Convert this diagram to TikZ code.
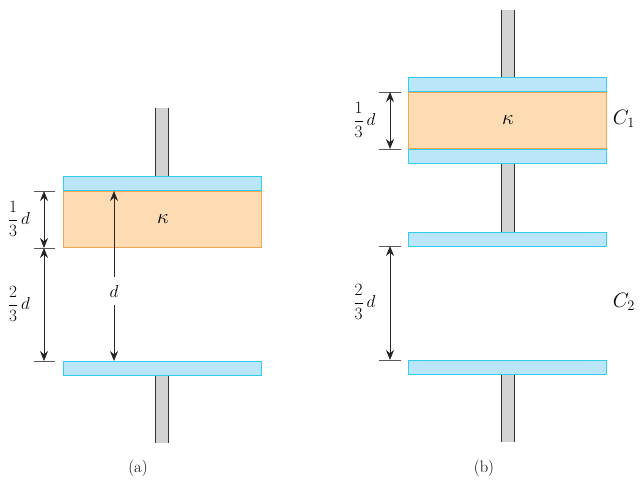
\documentclass[tikz,border=0pt]{standalone}
\usetikzlibrary{arrows.meta}
\definecolor{platefill}{RGB}{187,229,248}
\definecolor{plateline}{RGB}{50,205,245}
\definecolor{slabfill}{RGB}{253,219,179}
\definecolor{slabline}{RGB}{240,165,80}
\definecolor{wirefill}{RGB}{210,210,210}
\tikzset{plate/.style = {rectangle, draw = plateline, fill = platefill, line width = 1.5pt, minimum width = 198pt, minimum height = 14pt, inner sep = 0pt, outer sep = 0pt},
	slab/.style = {rectangle, draw = slabline, fill = slabfill, line width = 1.5pt, minimum width = 198pt, minimum height = 56pt, inner sep = 0pt, outer sep = 0pt},
	wire/.style = {rectangle, fill = wirefill, minimum width = 13pt, inner sep = 0pt, outer sep = 0pt, append after command = {
		(\tikzlastnode.north west) edge [wireside] (\tikzlastnode.south west)
		(\tikzlastnode.north east) edge [wireside] (\tikzlastnode.south east)}},
	wireside/.style = {draw = black!80, line width = 1pt},
	tick/.style = {draw = black!65, line width = 0.9pt},
	dim/.style = {{Stealth[length = 10pt, width = 8pt]}-{Stealth[length = 10pt, width = 8pt]}, line width = 0.9pt, draw = black!85},
	single/.style = {-{Stealth[length = 10pt, width = 8pt]}, line width = 0.9pt, draw = black!85},
	lab/.style = {font = \LARGE, inner sep = 0pt},
	biglab/.style = {font = \huge, inner sep = 0pt},
	caption/.style = {font = \fontsize{16.5}{19}\selectfont, inner sep = 0pt}}

\begin{document}
\begin{tikzpicture}[x = 1pt, y = -1pt]
 \useasboundingbox (0,0) rectangle (642,481);

 % (a)
 \node (wireAtop) at (162,142) [wire, minimum height = 68pt] {};
 \node (wireAbot) at (162,409.5) [wire, minimum height = 67pt] {};
 \node (plateAtop) at (162.5,183.5) [plate] {};
 \node (slabA) at (162.5,219.5) [slab] {};
 \node (plateAbot) at (162.5,368.5) [plate] {};
 \node (kappaA) at (163,219) [biglab] {$\kappa$};
 \node (captionA) at (138,468) [caption] {(a)};

 \coordinate (tickA1) at (55,191);
 \coordinate (tickA2) at (55,248);
 \coordinate (tickA3) at (55,361);
 \coordinate (arrA1) at (44,191);
 \coordinate (arrA2) at (44,248);
 \coordinate (arrA3) at (44,361);
 \draw [tick] (tickA1) -- +(-21,0);
 \draw [tick] (tickA2) -- +(-21,0);
 \draw [tick] (tickA3) -- +(-21,0);
 \draw [dim] (arrA1) -- (arrA2);
 \draw [dim] (arrA2) -- (arrA3);
 \node (thirdA) at (19,219) [lab] {$\displaystyle\frac{1}{3}\,d$};
 \node (twothirdsA) at (19,304) [lab] {$\displaystyle\frac{2}{3}\,d$};

 \coordinate (dtop) at (114,191);
 \coordinate (dbot) at (114,361);
 \node (dlabel) at (114,291) [lab, inner ysep = 8pt] {$d$};
 \draw [single] (dlabel) -- (dtop);
 \draw [single] (dlabel) -- (dbot);

 % (b)
 \node (wireBtop) at (508,43.5) [wire, minimum height = 67pt] {};
 \node (wireBmid) at (508,198) [wire, minimum height = 68pt] {};
 \node (wireBbot) at (508,408.5) [wire, minimum height = 67pt] {};
 \node (plateB1) at (507.5,84.5) [plate] {};
 \node (slabB) at (507.5,120.5) [slab] {};
 \node (plateB2) at (507.5,156.5) [plate] {};
 \node (plateB3) at (507.5,239.5) [plate] {};
 \node (plateB4) at (507.5,367.5) [plate] {};
 \node (kappaB) at (508,120) [biglab] {$\kappa$};
 \node (capOne) at (624,119) [biglab] {$C_1$};
 \node (capTwo) at (624,302) [biglab] {$C_2$};
 \node (captionB) at (484,468) [caption] {(b)};

 \coordinate (tickB1) at (401,92);
 \coordinate (tickB2) at (401,149);
 \coordinate (tickB3) at (401,246);
 \coordinate (tickB4) at (401,360);
 \coordinate (arrB1) at (390,92);
 \coordinate (arrB2) at (390,149);
 \coordinate (arrB3) at (390,246);
 \coordinate (arrB4) at (390,360);
 \draw [tick] (tickB1) -- +(-22,0);
 \draw [tick] (tickB2) -- +(-22,0);
 \draw [tick] (tickB3) -- +(-22,0);
 \draw [tick] (tickB4) -- +(-22,0);
 \draw [dim] (arrB1) -- (arrB2);
 \draw [dim] (arrB3) -- (arrB4);
 \node (thirdB) at (364.5,120) [lab] {$\displaystyle\frac{1}{3}\,d$};
 \node (twothirdsB) at (364.5,302) [lab] {$\displaystyle\frac{2}{3}\,d$};

\end{tikzpicture}
\end{document}
